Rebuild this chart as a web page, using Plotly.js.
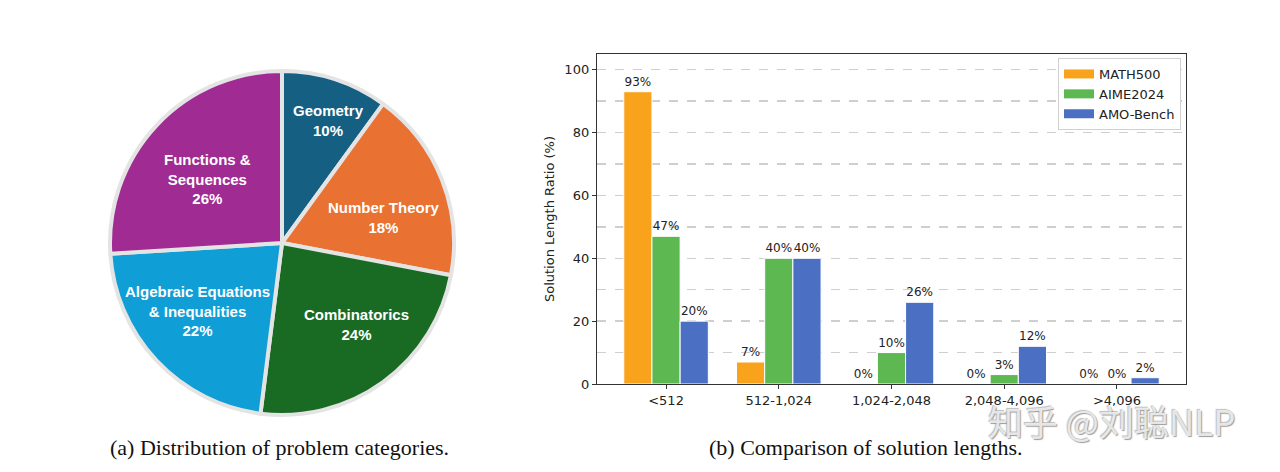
<!DOCTYPE html>
<html>
<head>
<meta charset="utf-8">
<script src="https://cdn.plot.ly/plotly-3.0.1.min.js"></script>
<style>
  html, body { margin: 0; padding: 0; background: #ffffff; }
  #chart { width: 1280px; height: 472px; }
</style>
</head>
<body>
<div id="chart"></div>
<script>
// ---- problem categories (pie) ----
const topicNames = ['Geometry', 'Number Theory', 'Combinatorics',
  'Algebraic Equations & Inequalities', 'Functions & Sequences'];
const topicLabels = ['Geometry', 'Number Theory', 'Combinatorics',
  'Algebraic Equations<br>& Inequalities', 'Functions &<br>Sequences'];
const topicShares = [10, 18, 24, 22, 26];

// ---- solution lengths (grouped bars) ----
const lengthBins = ['<512', '512-1,024', '1,024-2,048', '2,048-4,096', '>4,096'];
const math500 = [93, 7, 0, 0, 0];
const aime2024 = [47, 40, 10, 3, 0];
const amoBench = [20, 40, 26, 12, 2];
const seriesNames = ['MATH500', 'AIME2024', 'AMO-Bench'];

// ---- styling ----
const W = 1280, H = 472;
const pieColors = ['#156082', '#E97132', '#196B24', '#0F9ED5', '#A02B93'];
const barColors = ['#F9A21C', '#5DB852', '#4A6FC3'];
const pieCenter = { x: 282, y: 243 }, pieRadius = 172;
// radial placement of the in-slice labels (fraction of radius, angular nudge in degrees)
const labelRadius = [0.76, 0.61, 0.645, 0.63, 0.57];
const labelNudge = [2.7, 7.6, -6.4, 4.2, -2.3];
const plotBox = { left: 597, right: 1186, top: 54, bottom: 384 };
const sans = 'DejaVu Sans, sans-serif';
const serif = 'Liberation Serif, Times New Roman, serif';

const px2x = v => v / W;
const px2y = v => (H - v) / H;

const traces = [];

traces.push({
  type: 'pie',
  values: topicShares,
  labels: topicNames,
  sort: false,
  direction: 'clockwise',
  rotation: 0,
  textinfo: 'none',
  hoverinfo: 'label+percent',
  showlegend: false,
  marker: { colors: pieColors, line: { color: '#e4e4e4', width: 4 } },
  domain: {
    x: [px2x(pieCenter.x - pieRadius), px2x(pieCenter.x + pieRadius)],
    y: [px2y(pieCenter.y + pieRadius), px2y(pieCenter.y - pieRadius)]
  }
});

[math500, aime2024, amoBench].forEach((vals, i) => {
  traces.push({
    type: 'bar',
    x: lengthBins,
    y: vals,
    name: seriesNames[i],
    showlegend: false,
    marker: { color: barColors[i], line: { color: '#ffffff', width: 1 } },
    texttemplate: '%{y}%',
    textposition: 'outside',
    constraintext: 'none',
    cliponaxis: false,
    textfont: { family: sans, size: 12, color: '#222' },
    xaxis: 'x', yaxis: 'y'
  });
  // legend entry drawn as a wide colour patch
  traces.push({
    type: 'scatter', mode: 'lines',
    x: [null], y: [null],
    name: seriesNames[i],
    line: { color: barColors[i], width: 9 },
    hoverinfo: 'skip',
    xaxis: 'x', yaxis: 'y'
  });
});

// labels inside pie slices, placed from each slice's angle
const total = topicShares.reduce((a, b) => a + b, 0);
const annotations = [];
let acc = 0;
topicShares.forEach((v, i) => {
  const mid = (acc + v / 2) / total * 360 + labelNudge[i];
  acc += v;
  const th = mid * Math.PI / 180;
  const r = pieRadius * labelRadius[i];
  const lx = pieCenter.x + r * Math.sin(th);
  const ly = pieCenter.y - r * Math.cos(th);
  annotations.push({
    xref: 'paper', yref: 'paper',
    x: px2x(lx), y: px2y(ly),
    xanchor: 'center', yanchor: 'middle',
    showarrow: false, align: 'center',
    text: '<b>' + topicLabels[i] + '<br>' + v + '%</b>',
    font: { family: 'Liberation Sans, Arial, sans-serif', size: 15, color: '#ffffff' }
  });
});

// captions
annotations.push({
  xref: 'paper', yref: 'paper', x: px2x(279), y: px2y(447),
  xanchor: 'center', yanchor: 'middle', showarrow: false,
  text: '(a) Distribution of problem categories.',
  font: { family: serif, size: 22, color: '#111' }
});
annotations.push({
  xref: 'paper', yref: 'paper', x: px2x(865), y: px2y(447),
  xanchor: 'center', yanchor: 'middle', showarrow: false,
  text: '(b) Comparison of solution lengths.',
  font: { family: serif, size: 22, color: '#111' }
});
// site watermark
annotations.push({
  xref: 'paper', yref: 'paper', x: px2x(1111), y: px2y(420),
  xanchor: 'center', yanchor: 'middle', showarrow: false,
  text: '知乎 @刘聪NLP',
  font: { family: 'Noto Sans CJK SC, sans-serif', size: 35, color: 'rgba(238,238,238,0.92)',
          shadow: '1px 1px 1px #929292, -1px -1px 1px #b8b8b8' }
});

const layout = {
  width: W, height: H,
  margin: { l: 0, r: 0, t: 0, b: 0 },
  paper_bgcolor: '#ffffff', plot_bgcolor: '#ffffff',
  font: { family: sans, size: 13, color: '#222' },
  barmode: 'group',
  bargap: 0.25,
  bargroupgap: 0,
  xaxis: {
    domain: [px2x(plotBox.left), px2x(plotBox.right)],
    type: 'category',
    range: [-0.6125, 4.6125],
    showline: true, mirror: true, linecolor: '#333', linewidth: 1.2,
    ticks: 'outside', ticklen: 4, tickcolor: '#333',
    tickfont: { family: sans, size: 13, color: '#222' },
    showgrid: false, zeroline: false, fixedrange: true
  },
  yaxis: {
    domain: [px2y(plotBox.bottom), px2y(plotBox.top)],
    range: [0, 105],
    tick0: 0, dtick: 20,
    showline: true, mirror: true, linecolor: '#333', linewidth: 1.2,
    ticks: 'outside', ticklen: 4, tickcolor: '#333',
    tickfont: { family: sans, size: 13, color: '#222' },
    showgrid: true, gridcolor: '#cfcfcf', gridwidth: 1.3, griddash: 'dash',
    minor: { dtick: 10, showgrid: true, gridcolor: '#cfcfcf', gridwidth: 1.3, griddash: 'dash', ticks: '' },
    zeroline: false,
    title: { text: 'Solution Length Ratio (%)', standoff: 6,
             font: { family: sans, size: 13, color: '#222' } },
    fixedrange: true
  },
  legend: {
    x: px2x(1181), y: px2y(58), xanchor: 'right', yanchor: 'top',
    bgcolor: '#ffffff', bordercolor: '#d0d0d0', borderwidth: 1,
    font: { family: sans, size: 13, color: '#222' },
    tracegroupgap: 0
  },
  annotations: annotations,
  showlegend: true
};

Plotly.newPlot('chart', traces, layout, { displayModeBar: false, staticPlot: true });
</script>
</body>
</html>
